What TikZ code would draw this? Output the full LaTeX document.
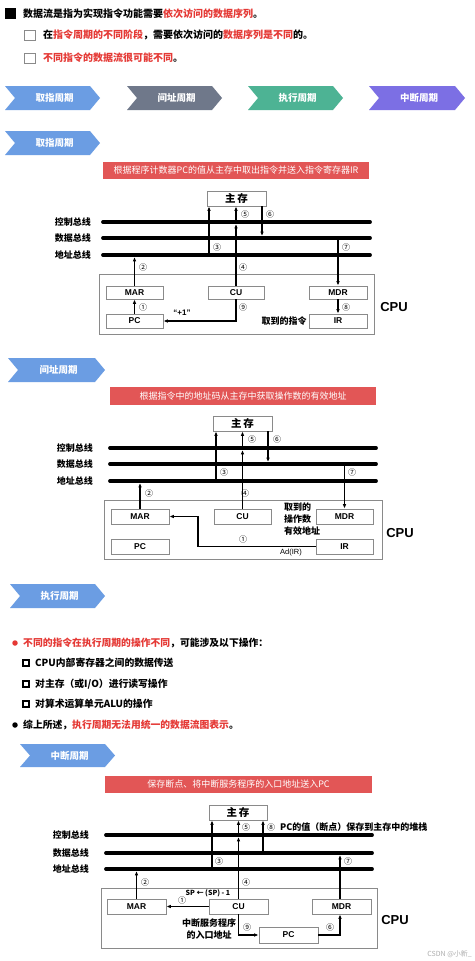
\documentclass[tikz,border=0pt]{standalone}
\usepackage{fontspec}
\setmainfont{Liberation Sans}
\newfontfamily\cjk{Noto Sans CJK SC}
\usetikzlibrary{arrows.meta}
\definecolor{chevblue}{HTML}{6B9DE3}
\definecolor{chevgray}{HTML}{6F788A}
\definecolor{chevgreen}{HTML}{4DB394}
\definecolor{chevpurple}{HTML}{7C6FE4}
\definecolor{bannerred}{HTML}{E25656}
\definecolor{hlred}{HTML}{E53935}
\definecolor{boxgray}{HTML}{8A8A8A}
\newcommand\fsz[1]{\fontsize{#1}{#1}\selectfont}
\newcommand\redtxt[1]{\textcolor{hlred}{#1}}
\tikzset{
  bus/.style={line width=3.8pt, line cap=round},
  reg/.style={draw=boxgray, line width=0.7pt, fill=white, inner sep=0pt, font=\bfseries\fsz{8.5}},
  cpubox/.style={draw=boxgray, line width=0.8pt, inner sep=0pt},
  memtxt/.style={font=\cjk\bfseries\fsz{10.5}},
  flow/.style={line width=1.1pt, -{Latex[length=4.5pt,width=3.6pt]}},
  num/.style={font=\cjk\fsz{8}, inner sep=0pt},
  buslab/.style={font=\cjk\bfseries\fsz{9}, anchor=east, inner sep=0pt},
  banner/.style={fill=bannerred, text=white, font=\cjk\fsz{9}, inner sep=0pt},
  chevtxt/.style={text=white, font=\cjk\bfseries\fsz{9.5}, inner sep=0pt},
  cputxt/.style={font=\bfseries\fsz{13}, inner sep=0pt},
  note/.style={font=\cjk\bfseries\fsz{9}, inner sep=0pt},
  body/.style={font=\cjk\bfseries\fsz{10}, anchor=west, inner sep=0pt},
}
% name x1 y1 x2 y2 text
\newcommand\rbox[6]{\node[reg,minimum width={#4-#2},minimum height={#5-#3}] (#1) at ({(#2+#4)/2},{(#3+#5)/2}) {#6};}
\newcommand\cbox[5]{\node[cpubox,minimum width={#4-#2},minimum height={#5-#3}] (#1) at ({(#2+#4)/2},{(#3+#5)/2}) {};}
\newcommand\membox[5]{\node[reg,memtxt,minimum width={#4-#2},minimum height={#5-#3}] (#1) at ({(#2+#4)/2},{(#3+#5)/2}) {主\,存};}
% name x1 y1 x2 y2 color text
\newcommand\mychev[7]{\fill[#6] (#2,#3) -- ({#4-10},#3) -- (#4,{(#3+#5)/2}) -- ({#4-10},#5) -- (#2,#5) -- ({#2+10},{(#3+#5)/2}) -- cycle;
  \node[chevtxt] (#1) at ({(#2+#4)/2+2},{(#3+#5)/2}) {#7};}
\begin{document}
\begin{tikzpicture}[x=1pt,y=-1pt]
\useasboundingbox (0,0) rectangle (474,961);
\fill[white] (0,0) rectangle (474,961);

% ---------- top text ----------
\node[fill=black, minimum size=11pt, inner sep=0pt] (bsq) at (10.5,13.5) {};
\node[body] (t1) at (23,14) {数据流是指为实现指令功能需要\redtxt{依次访问的数据序列}。};
\node[draw=boxgray, line width=0.8pt, minimum width=11pt, minimum height=10pt, inner sep=0pt] (cb1) at (29.5,35) {};
\node[body] (t2) at (43,35) {在\redtxt{指令周期的不同阶段}，需要依次访问的\redtxt{数据序列是不同}的。};
\node[draw=boxgray, line width=0.8pt, minimum width=11pt, minimum height=10pt, inner sep=0pt] (cb2) at (29.5,58) {};
\node[body] (t3) at (43,58) {\redtxt{不同指令的数据流很可能不同}。};

% ---------- chevrons ----------
\mychev{c1}{5}{86}{100}{110}{chevblue}{取指周期}
\mychev{c2}{127}{86}{222}{110}{chevgray}{间址周期}
\mychev{c3}{248}{86}{343}{110}{chevgreen}{执行周期}
\mychev{c4}{369}{86}{465}{110}{chevpurple}{中断周期}
\mychev{s1}{5}{131}{100}{155}{chevblue}{取指周期}
\mychev{s2}{8}{358}{105}{382}{chevblue}{间址周期}
\mychev{s3}{10}{584}{105}{608}{chevblue}{执行周期}
\mychev{s4}{20}{744}{115}{767}{chevblue}{中断周期}

% ================= fetch cycle =================
\node[banner, minimum width=266pt, minimum height=17pt] (fb) at (236,170.5) {根据程序计数器PC的值从主存中取出指令并送入指令寄存器IR};
\coordinate (fcbL) at (103,222); \coordinate (fcbR) at (370,222);
\coordinate (fdbL) at (103,238); \coordinate (fdbR) at (370,238);
\coordinate (fabL) at (103,255); \coordinate (fabR) at (370,255);
\draw[bus] (fcbL) -- (fcbR);
\draw[bus] (fdbL) -- (fdbR);
\draw[bus] (fabL) -- (fabR);
\node[buslab] (fl1) at (91,222) {控制总线};
\node[buslab] (fl2) at (91,238) {数据总线};
\node[buslab] (fl3) at (91,255) {地址总线};
\cbox{fCPU}{99}{274}{374}{334}
\membox{fMem}{207}{191}{266}{206}
\rbox{fMAR}{106}{286}{163}{299}{MAR}
\rbox{fCU}{208}{286}{264}{299}{CU}
\rbox{fMDR}{309}{286}{367}{299}{MDR}
\rbox{fPC}{106}{314}{163}{328}{PC}
\rbox{fIR}{309}{314}{367}{328}{IR}
\coordinate (f3) at (209,255);
\coordinate (f6) at (262,238);
\coordinate (f7) at (338,238);
\draw[flow] (f3) -- (f3 |- fMem.south);
\draw[flow] (fCU.north) -- ([yshift=-1.9pt]fCU.north |- fcbL);
\draw[flow] (fCU.north |- fcbL) -- (fMem.south -| fCU.north);
\draw[flow] (f6 |- fMem.south) -- ([yshift=1.9pt]f6);
\draw[flow] (f7) -- (f7 |- fMDR.north);
\draw[flow] (fMAR.north) -- ([yshift=-1.9pt]fMAR.north |- fabL);
\draw[flow] (fPC.north) -- (fMAR.south);
\draw[flow] (fMDR.south) -- (fIR.north);
\draw[flow] (fCU.south) |- (fPC.east);
\node[num] (fn3) at (217,247) {③};
\node[num] (fn5) at (245,214) {⑤};
\node[num] (fn6) at (270,214) {⑥};
\node[num] (fn7) at (346,247) {⑦};
\node[num] (fn2) at (143,267) {②};
\node[num] (fn4) at (243,267) {④};
\node[num] (fn1) at (143,307) {①};
\node[num] (fn9) at (243,307) {⑨};
\node[num] (fn8) at (346,307) {⑧};
\node[font=\bfseries\fsz{8}, inner sep=0pt] (fp1) at (182,313) {“+1”};
\node[note] (fget) at (284,321) {取到的指令};
\node[cputxt] (fcpu) at (394,307) {CPU};

% ================= indirect cycle =================
\node[banner, minimum width=266pt, minimum height=18pt] (ib) at (243,396) {根据指令中的地址码从主存中获取操作数的有效地址};
\coordinate (icbL) at (110,448); \coordinate (icbR) at (376,448);
\coordinate (idbL) at (110,464); \coordinate (idbR) at (376,464);
\coordinate (iabL) at (110,481); \coordinate (iabR) at (376,481);
\draw[bus] (icbL) -- (icbR);
\draw[bus] (idbL) -- (idbR);
\draw[bus] (iabL) -- (iabR);
\node[buslab] (il1) at (93,448) {控制总线};
\node[buslab] (il2) at (93,464) {数据总线};
\node[buslab] (il3) at (93,481) {地址总线};
\cbox{iCPU}{104}{500}{382}{559}
\membox{iMem}{213}{416}{272}{431}
\rbox{iMAR}{111}{509}{169}{524}{MAR}
\rbox{iCU}{214}{509}{271}{524}{CU}
\rbox{iMDR}{316}{509}{373}{524}{MDR}
\rbox{iPC}{111}{539}{169}{554}{PC}
\rbox{iIR}{316}{539}{373}{554}{IR}
\coordinate (i3) at (216,481);
\coordinate (i6) at (268,464);
\coordinate (i7) at (344.5,464);
\coordinate (iK) at (198,530);
\draw[flow] (i3) -- (i3 |- iMem.south);
\draw[flow] (iCU.north) -- ([yshift=-1.9pt]iCU.north |- icbL);
\draw[flow] (iCU.north |- icbL) -- (iMem.south -| iCU.north);
\draw[flow] (i6 |- iMem.south) -- ([yshift=1.9pt]i6);
\draw[flow] (i7) -- (i7 |- iMDR.north);
\draw[flow] (iMAR.north) -- ([yshift=-1.9pt]iMAR.north |- iabL);
\draw[flow] (iIR.west) -- (iIR.west -| iK) -- (iMAR.east -| iK) -- (iMAR.east);
\node[num] (in3) at (224,472) {③};
\node[num] (in5) at (252,439) {⑤};
\node[num] (in6) at (277,439) {⑥};
\node[num] (in7) at (352,472) {⑦};
\node[num] (in2) at (149,493) {②};
\node[num] (in4) at (245,493) {④};
\node[num] (in1) at (243,539) {①};
\node[font=\fsz{7.5}, inner sep=0pt] (iad) at (291,553) {Ad(IR)};
\node[note, align=left, anchor=west, font=\cjk\bfseries\fontsize{9}{12}\selectfont] (iget) at (284,519) {取到的\\操作数\\有效地址};
\node[cputxt] (icpu) at (400,533) {CPU};

% ================= execute cycle =================
\node[circle, fill=hlred, minimum size=5.5pt, inner sep=0pt] (ed1) at (15,643) {};
\node[body, font=\cjk\bfseries\fsz{9.8}] (e1) at (23,643) {\redtxt{不同的指令在执行周期的操作不同}，可能涉及以下操作：};
\node[draw, line width=1.1pt, minimum size=6pt, inner sep=0pt] (esq1) at (26,663) {};
\node[body, font=\cjk\bfseries\fsz{9.8}] (e2) at (35,663) {CPU内部寄存器之间的数据传送};
\node[draw, line width=1.1pt, minimum size=6pt, inner sep=0pt] (esq2) at (26,684) {};
\node[body, font=\cjk\bfseries\fsz{9.8}] (e3) at (35,684) {对主存（或I/O）进行读写操作};
\node[draw, line width=1.1pt, minimum size=6pt, inner sep=0pt] (esq3) at (26,704) {};
\node[body, font=\cjk\bfseries\fsz{9.8}] (e4) at (35,704) {对算术运算单元ALU的操作};
\node[circle, fill=black, minimum size=5.5pt, inner sep=0pt] (ed2) at (15,725) {};
\node[body, font=\cjk\bfseries\fsz{9.8}] (e5) at (23,725) {综上所述，\redtxt{执行周期无法用统一的数据流图表示}。};

% ================= interrupt cycle =================
\node[banner, minimum width=267pt, minimum height=17pt] (tb) at (238.5,784.5) {保存断点、将中断服务程序的入口地址送入PC};
\coordinate (tcbL) at (106,835); \coordinate (tcbR) at (372,835);
\coordinate (tdbL) at (106,853); \coordinate (tdbR) at (372,853);
\coordinate (tabL) at (106,869); \coordinate (tabR) at (372,869);
\draw[bus] (tcbL) -- (tcbR);
\draw[bus] (tdbL) -- (tdbR);
\draw[bus] (tabL) -- (tabR);
\node[buslab] (tl1) at (89,835) {控制总线};
\node[buslab] (tl2) at (89,853) {数据总线};
\node[buslab] (tl3) at (89,869) {地址总线};
\cbox{tCPU}{101}{888}{377}{948}
\membox{tMem}{209}{805}{267}{820}
\rbox{tMAR}{107}{899}{166}{914}{MAR}
\rbox{tCU}{209}{899}{268}{914}{CU}
\rbox{tMDR}{312}{899}{371}{914}{MDR}
\rbox{tPC}{259}{927}{318}{943}{PC}
\coordinate (t3) at (212,869);
\coordinate (t8) at (263,853);
\coordinate (t7) at (340,853);
\draw[flow] (t3) -- (t3 |- tMem.south);
\draw[flow] (tCU.north) -- ([yshift=-1.9pt]tCU.north |- tcbL);
\draw[flow] (tCU.north |- tcbL) -- (tMem.south -| tCU.north);
\draw[flow] (t8) -- (t8 |- tMem.south);
\draw[flow] (t7 |- tMDR.north) -- ([yshift=-1.9pt]t7);
\draw[flow] (tMAR.north) -- ([yshift=-1.9pt]tMAR.north |- tabL);
\draw[flow] (tCU.west) -- (tMAR.east);
\draw[flow] (tCU.south) |- (tPC.west);
\draw[flow] (tPC.east) -| (t7 |- tMDR.south);
\node[num] (tn3) at (219,861) {③};
\node[num] (tn5) at (246,827) {⑤};
\node[num] (tn8) at (271,827) {⑧};
\node[note, anchor=west] (tpcv) at (280,827) {PC的值（断点）保存到主存中的堆栈};
\node[num] (tn7) at (348,861) {⑦};
\node[num] (tn2) at (145,882) {②};
\node[num] (tn4) at (246,882) {④};
\node[num] (tn1) at (182,900) {①};
\node[font=\cjk\bfseries\fsz{7}, inner sep=0pt] (tsp) at (208,893) {SP ← (SP) - 1};
\node[num] (tn9) at (247,927) {⑨};
\node[num] (tn6) at (330,927) {⑥};
\node[note, align=center, font=\cjk\bfseries\fontsize{9}{11.5}\selectfont] (tentry) at (209,929) {中断服务程序\\的入口地址};
\node[cputxt] (tcpu) at (395,920) {CPU};

\node[font=\cjk\fsz{7}, text=boxgray!70, anchor=east, inner sep=0pt] (wm) at (472,954) {CSDN @小新\_};
\end{tikzpicture}
\end{document}
